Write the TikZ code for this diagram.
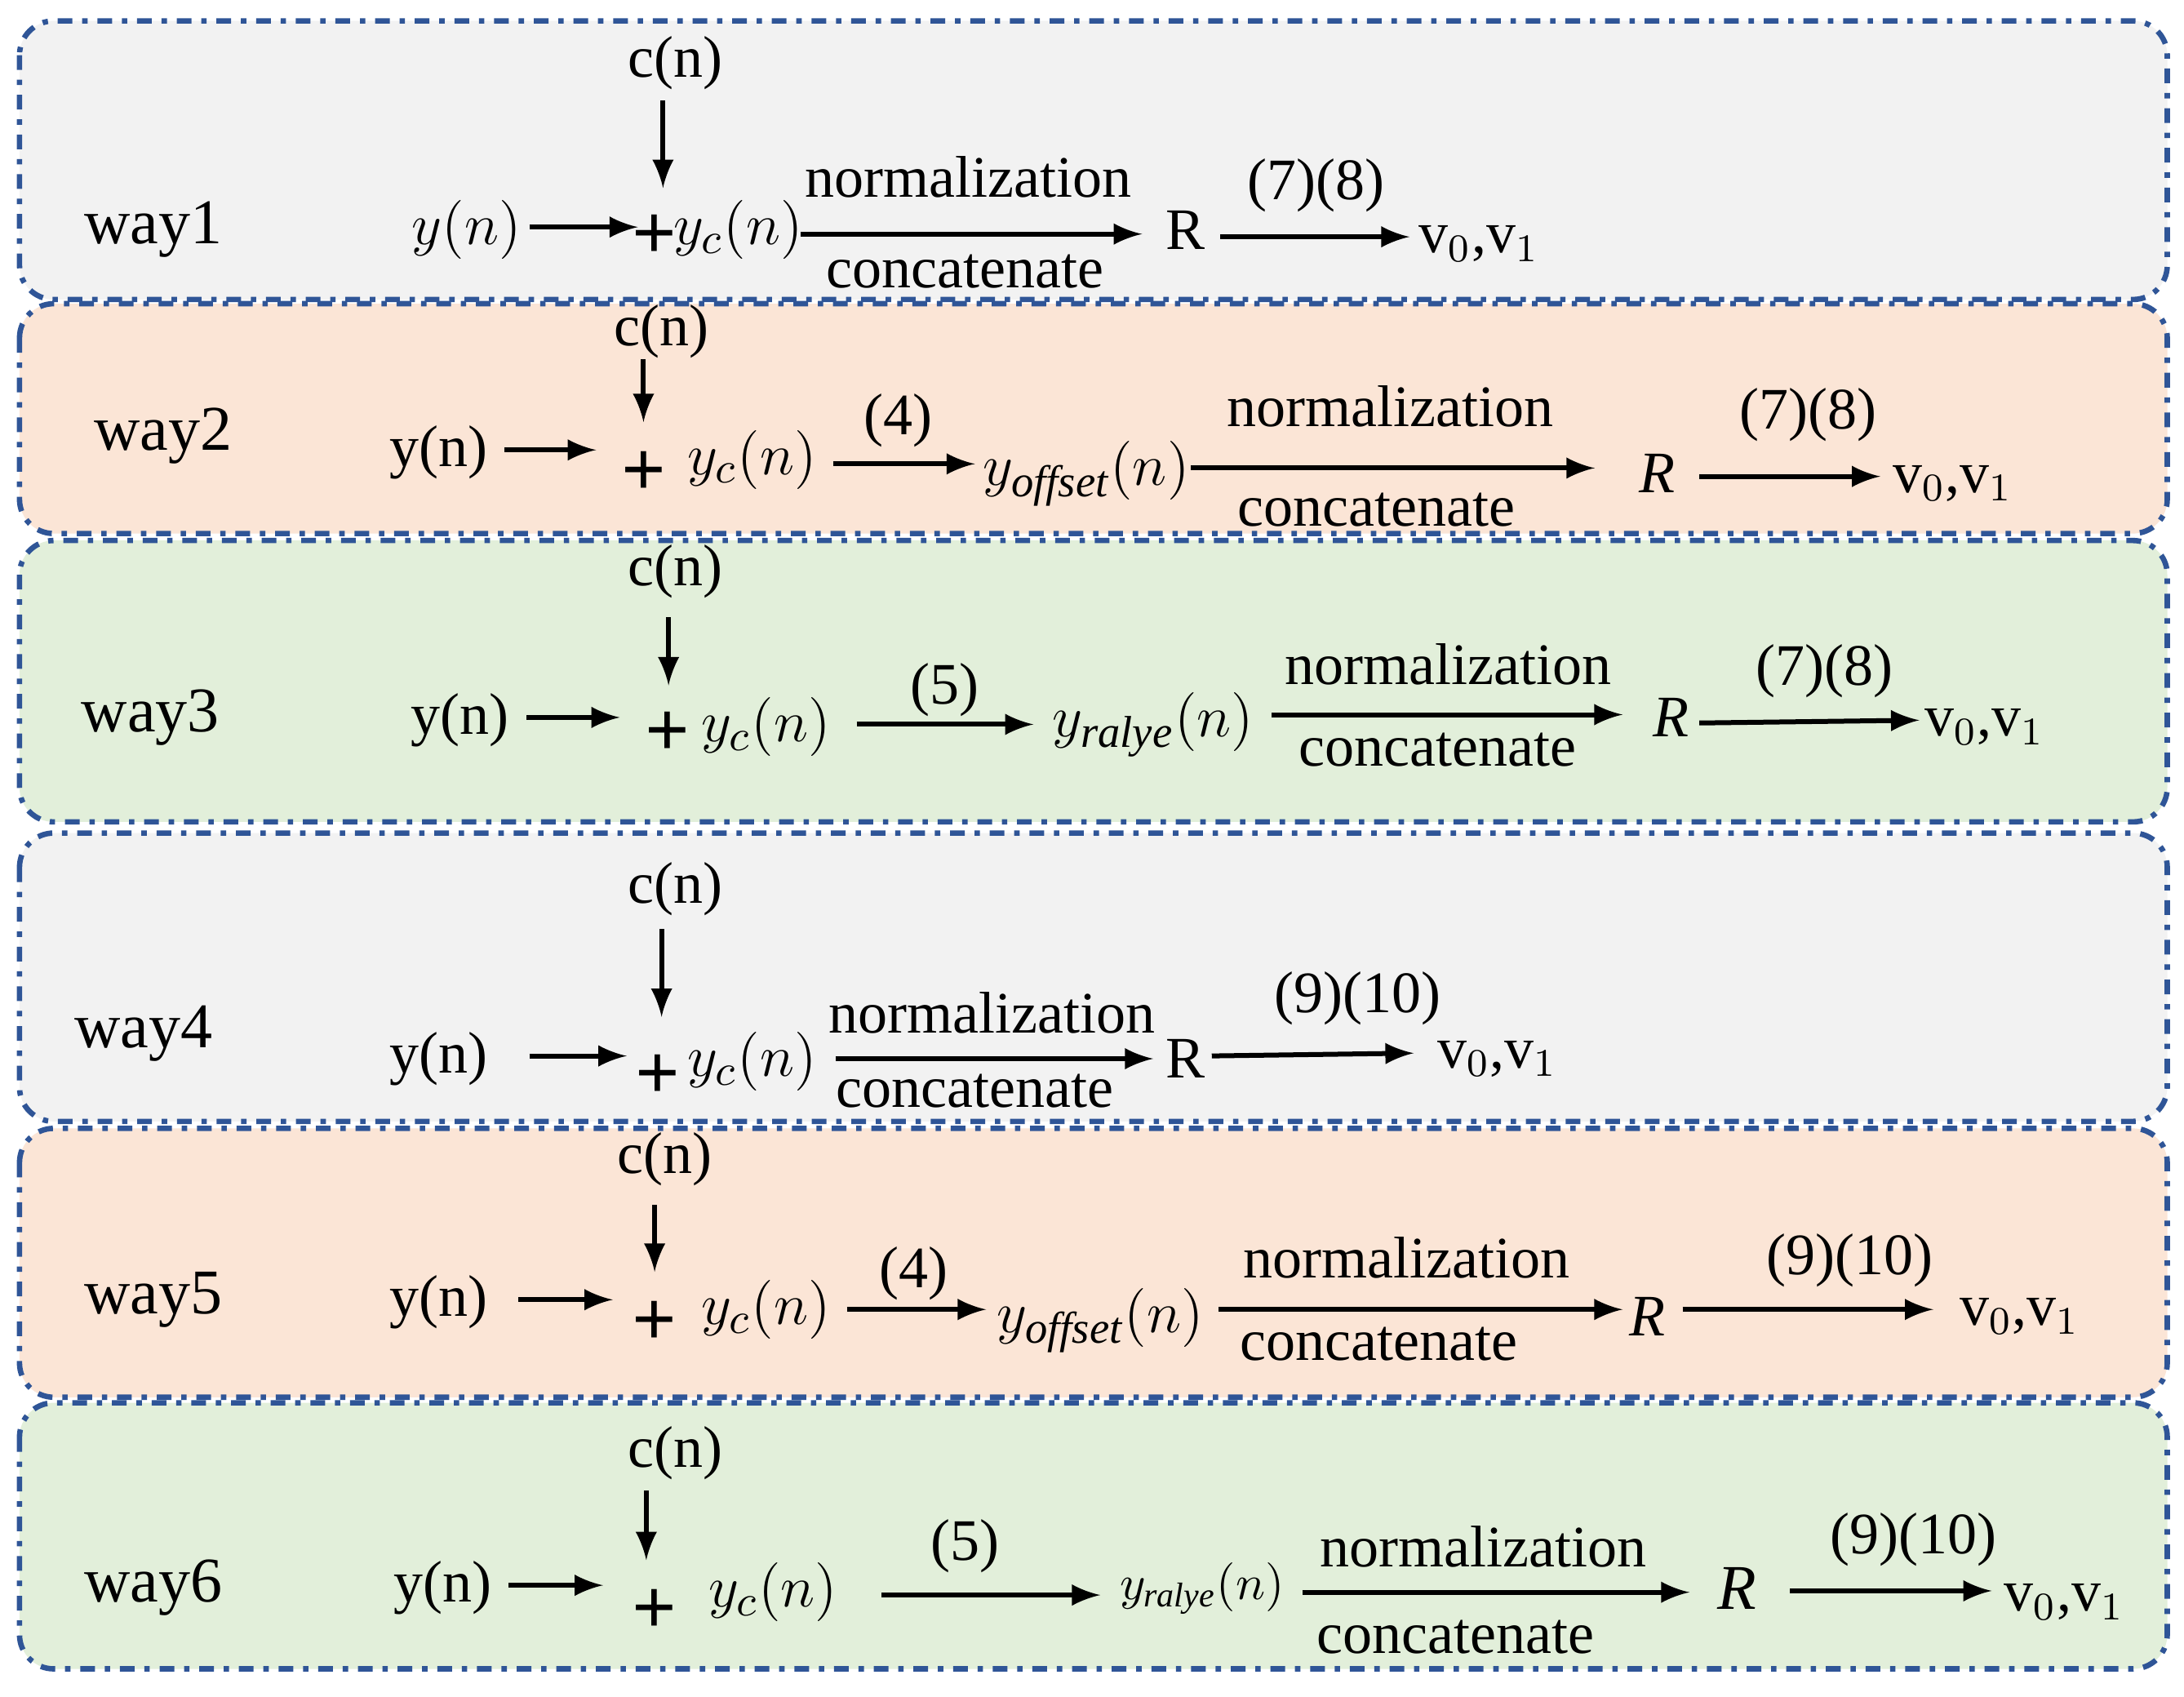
\documentclass[tikz,border=0pt]{standalone}
\usepackage{fontspec}
\setmainfont{Liberation Serif}
\begin{document}
\begin{tikzpicture}[x=0.01cm,y=-0.01cm,
  panel/.style={draw=pblue, line width=1.1pt, dash dot, rounded corners=7pt},
  lbl/.style={font=\fontsize{12}{14}\selectfont, inner sep=0pt},
  mth/.style={font=\fontsize{13}{15}\selectfont, inner sep=0pt},
  way/.style={font=\fontsize{13}{15}\selectfont, inner sep=0pt},
  arr/.style={-latex, line width=1pt},
  plus/.style={font=\fontsize{16}{18}\selectfont\bfseries, inner sep=0pt}]
\definecolor{pgray}{HTML}{F2F2F2}
\definecolor{ppeach}{HTML}{FBE5D6}
\definecolor{pgreen}{HTML}{E2EFDA}
\definecolor{pblue}{HTML}{2F5597}
\useasboundingbox (0,0) rectangle (1568,1218);
\fill[white] (0,0) rectangle (1568,1218);
\path[panel,fill=pgray] (14,15) rectangle (1556,215);
\path[panel,fill=ppeach] (14,218) rectangle (1556,383);
\path[panel,fill=pgreen] (14,388) rectangle (1556,590);
\path[panel,fill=pgray] (14,598) rectangle (1556,805);
\path[panel,fill=ppeach] (14,810) rectangle (1556,1003);
\path[panel,fill=pgreen] (14,1007) rectangle (1556,1198);

% row 1
\node[way] (w1) at (110,165) {way1};
\node[lbl] (c1) at (485,45) {c(n)};
\draw[arr] (476,72) -- (476,135);
\node[mth] (y1) at (335,165) {$y(n)$};
\draw[arr] (380,163) -- (458,163);
\node[plus] (p1) at (470,170) {+};
\node[mth] (yc1) at (530,165) {$y_c(n)$};
\draw[arr] (575,168) -- (820,168);
\node[lbl] at (695,127) {normalization};
\node[lbl] at (693,195) {concatenate};
\node[lbl] (R1) at (851,165) {R};
\draw[arr] (876,170) -- (1012,170);
\node[lbl] at (945,133) {(7)(8)};
\node[lbl] at (1062,175) {v$_0$,v$_1$};

% row 2
\node[way] (w2) at (117,313) {way2};
\node[lbl] at (475,238) {c(n)};
\draw[arr] (462,258) -- (462,303);
\node[lbl] at (315,325) {y(n)};
\draw[arr] (362,323) -- (428,323);
\node[plus] at (462,340) {+};
\node[mth] at (540,330) {$y_c(n)$};
\draw[arr] (598,333) -- (700,333);
\node[lbl] at (645,302) {(4)};
\node[mth] at (780,340) {$y_{\mathit{offset}}(n)$};
\draw[arr] (855,336) -- (1145,336);
\node[lbl] at (998,292) {normalization};
\node[lbl] at (988,366) {concatenate};
\node[lbl] at (1190,340) {\textit{R}};
\draw[arr] (1220,342) -- (1350,342);
\node[lbl] at (1298,298) {(7)(8)};
\node[lbl] at (1402,347) {v$_0$,v$_1$};

% row 3
\node[way] at (108,515) {way3};
\node[lbl] at (485,410) {c(n)};
\draw[arr] (480,443) -- (480,492);
\node[lbl] at (330,517) {y(n)};
\draw[arr] (378,515) -- (445,515);
\node[plus] at (479,527) {+};
\node[mth] at (550,522) {$y_c(n)$};
\draw[arr] (615,520) -- (742,520);
\node[lbl] at (678,495) {(5)};
\node[mth] at (828,520) {$y_{\mathit{ralye}}(n)$};
\draw[arr] (913,513) -- (1165,513);
\node[lbl] at (1040,477) {normalization};
\node[lbl] at (1032,538) {concatenate};
\node[lbl] at (1200,515) {\textit{R}};
\draw[arr] (1220,519) -- (1378,517);
\node[lbl] at (1310,482) {(7)(8)};
\node[lbl] at (1425,522) {v$_0$,v$_1$};

% row 4
\node[way] at (103,742) {way4};
\node[lbl] at (485,638) {c(n)};
\draw[arr] (475,667) -- (475,730);
\node[lbl] at (315,760) {y(n)};
\draw[arr] (380,758) -- (450,758);
\node[plus] at (472,773) {+};
\node[mth] at (540,762) {$y_c(n)$};
\draw[arr] (600,760) -- (828,760);
\node[lbl] at (712,727) {normalization};
\node[lbl] at (700,783) {concatenate};
\node[lbl] at (851,760) {R};
\draw[arr] (870,758) -- (1015,756);
\node[lbl] at (975,717) {(9)(10)};
\node[lbl] at (1075,760) {v$_0$,v$_1$};

% row 5
\node[way] at (110,933) {way5};
\node[lbl] at (477,832) {c(n)};
\draw[arr] (470,865) -- (470,913);
\node[lbl] at (315,935) {y(n)};
\draw[arr] (372,933) -- (440,933);
\node[plus] at (470,950) {+};
\node[mth] at (550,940) {$y_c(n)$};
\draw[arr] (608,940) -- (708,940);
\node[lbl] at (656,914) {(4)};
\node[mth] at (790,948) {$y_{\mathit{offset}}(n)$};
\draw[arr] (875,940) -- (1165,940);
\node[lbl] at (1010,903) {normalization};
\node[lbl] at (990,965) {concatenate};
\node[lbl] at (1183,945) {\textit{R}};
\draw[arr] (1208,940) -- (1388,940);
\node[lbl] at (1328,905) {(9)(10)};
\node[lbl] at (1450,945) {v$_0$,v$_1$};

% row 6
\node[way] at (110,1140) {way6};
\node[lbl] at (485,1043) {c(n)};
\draw[arr] (464,1070) -- (464,1120);
\node[lbl] at (318,1140) {y(n)};
\draw[arr] (365,1138) -- (433,1138);
\node[plus] at (470,1157) {+};
\node[mth] at (555,1143) {$y_c(n)$};
\draw[arr] (633,1145) -- (790,1145);
\node[lbl] at (693,1110) {(5)};
\node[lbl,font=\fontsize{10}{11}\selectfont] at (863,1140) {$y_{\mathit{ralye}}(n)$};
\draw[arr] (935,1143) -- (1213,1143);
\node[lbl] at (1065,1110) {normalization};
\node[lbl] at (1045,1175) {concatenate};
\node[mth] at (1247,1140) {\textit{R}};
\draw[arr] (1285,1142) -- (1430,1142);
\node[lbl] at (1374,1105) {(9)(10)};
\node[lbl] at (1482,1150) {v$_0$,v$_1$};
\end{tikzpicture}
\end{document}
